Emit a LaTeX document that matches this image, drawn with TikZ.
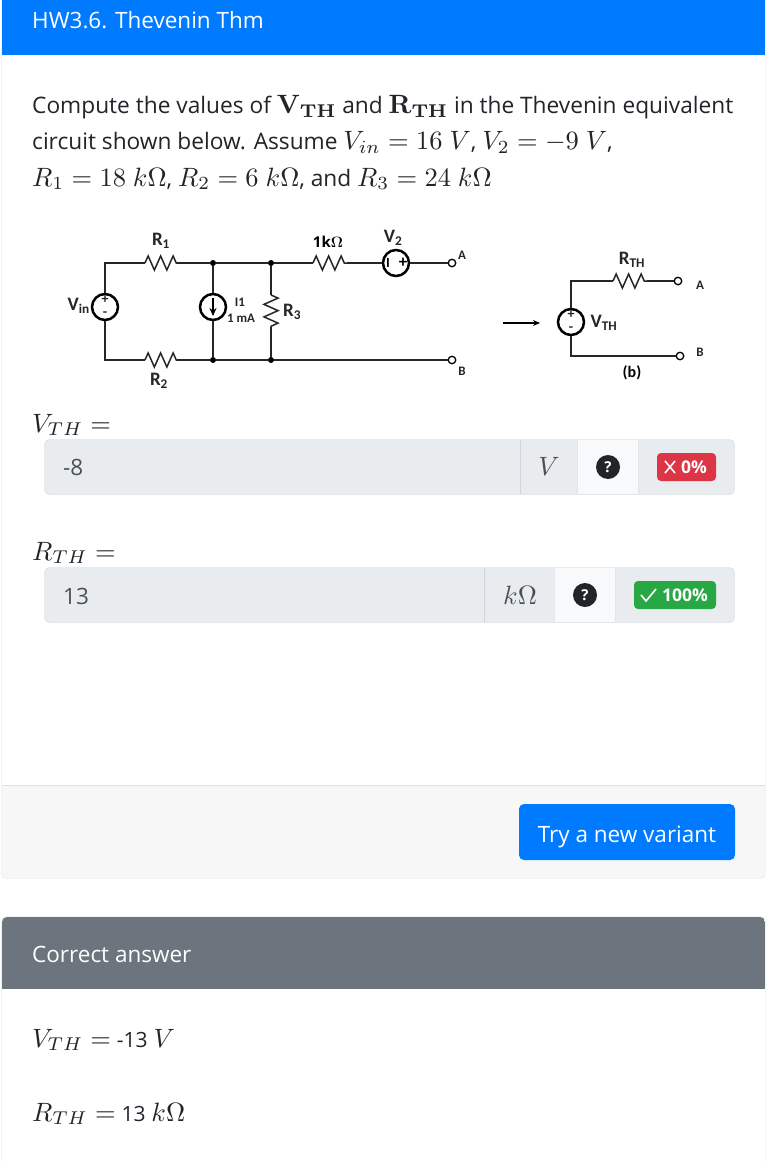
\documentclass[tikz,border=0pt]{standalone}
\usepackage{fix-cm}
\usepackage{graphicx}
\usepackage[no-math]{fontspec}
\setmainfont{Open Sans}
\newfontfamily\labelfont{Carlito}
\usetikzlibrary{decorations.pathmorphing, arrows.meta}
\definecolor{cardblue}{HTML}{007BFF}
\definecolor{cardgray}{HTML}{6C757D}
\definecolor{cardline}{HTML}{DFDFDF}
\definecolor{footgray}{HTML}{F7F7F7}
\definecolor{groupgray}{HTML}{E9ECEF}
\definecolor{groupline}{HTML}{CED4DA}
\definecolor{helpgray}{HTML}{F8F9FA}
\definecolor{inktext}{HTML}{212529}
\definecolor{fieldtext}{HTML}{495057}
\definecolor{badred}{HTML}{DC3545}
\definecolor{goodgreen}{HTML}{28A745}
\newcommand{\txtsize}{\fontsize{22.5}{27}\selectfont}
\newcommand{\mth}[1]{\scalebox{2.65}{\normalsize$#1$}}
\tikzset{
  every node/.style={inner sep=0pt},
  txt/.style={anchor=base west, text=inktext, font=\txtsize},
  qtxt/.style={anchor=base west, text=inktext, font=\fontsize{22.7}{27}\selectfont},
  field/.style={anchor=base west, text=fieldtext, font=\txtsize},
  unit/.style={anchor=base, text=fieldtext, font=\txtsize},
  wire/.style={line width=1.5pt, black!85},
  res/.style={wire, decorate, decoration={zigzag, segment length=12.5pt, amplitude=7pt}},
  source/.style={circle, draw, line width=2.5pt, black, fill=white, minimum size=26pt},
  terminal/.style={circle, draw, line width=1.3pt, black, fill=white, minimum size=7.5pt},
  joint/.style={circle, fill=black, minimum size=6pt},
  lab/.style={font=\labelfont\bfseries\fontsize{19}{20}\selectfont, text=black!85},
  pol/.style={font=\labelfont\bfseries\fontsize{14}{14}\selectfont, text=black!85},
  smalllab/.style={font=\labelfont\bfseries\fontsize{13}{14}\selectfont, text=black!85},
  badge/.style={rounded corners=4pt, text=white},
  helpdot/.style={circle, fill=inktext, minimum size=24pt, text=white, font=\bfseries\fontsize{15}{15}\selectfont}
}
\begin{document}
\begin{tikzpicture}[x=1pt, y=-1pt]
    \useasboundingbox (0,0) rectangle (774,1161);
    \fill[white] (0,0) rectangle (774,1161);

    % Top card
    \draw[cardline, fill=white, rounded corners=5pt] (1.5,-10) rectangle (765.5,878.5);
    \fill[cardblue] (2,0) rectangle (765,55.5);
    \begin{scope}
        \clip[rounded corners=5pt] (2,-10) rectangle (765,878);
        \fill[footgray] (2,785) rectangle (765,878);
    \end{scope}
    \draw[cardline] (2,785.5) -- (765,785.5);
    \node[txt, text=white] (title) at (32,29) {HW3.6. Thevenin Thm};

    % Question
    \node[qtxt] (line1) at (32,114) {Compute the values of \mth{\mathbf{V_{TH}}} and \mth{\mathbf{R_{TH}}} in the Thevenin equivalent};
    \node[qtxt] (line2) at (32,150) {circuit shown below. Assume \mth{V_{in}=16\ V}, \mth{V_2=-9\ V},};
    \node[qtxt] (line3) at (32,186) {\mth{R_1=18\ k\Omega}, \mth{R_2=6\ k\Omega}, and \mth{R_3=24\ k\Omega}};

    % Circuit (a)
    \coordinate (tl) at (105,263);
    \coordinate (bl) at (105,360);
    \coordinate (r1a) at (145,263);
    \coordinate (r1b) at (177,263);
    \coordinate (r2a) at (145,360);
    \coordinate (r2b) at (177,360);
    \coordinate (r3a) at (271,295);
    \coordinate (r3b) at (271,327);
    \coordinate (r4a) at (313,263);
    \coordinate (r4b) at (347,263);
    \node[source] (vin) at (105,307) {};
    \node[source] (i1) at (213,307) {};
    \node[source] (v2) at (396,263) {};
    \node[joint] (j1) at (213,263) {};
    \node[joint] (j2) at (271,263) {};
    \node[joint] (j3) at (213,360) {};
    \node[joint] (j4) at (271,360) {};
    \node[terminal] (ta) at (452,263) {};
    \node[terminal] (tb) at (452,360) {};

    \draw[wire] (vin) -- (tl) -- (r1a);
    \draw[res] (r1a) -- (r1b);
    \draw[wire] (r1b) -- (j1) -- (j2) -- (r4a);
    \draw[res] (r4a) -- (r4b);
    \draw[wire] (r4b) -- (v2);
    \draw[wire] (v2) -- (ta);
    \draw[wire] (vin) -- (bl) -- (r2a);
    \draw[res] (r2a) -- (r2b);
    \draw[wire] (r2b) -- (j3) -- (j4) -- (tb);
    \draw[wire] (j1) -- (i1);
    \draw[wire] (i1) -- (j3);
    \draw[wire] (j2) -- (r3a);
    \draw[res] (r3a) -- (r3b);
    \draw[wire] (r3b) -- (j4);
    \draw[-{Stealth[length=8pt,width=7pt]}, line width=1.6pt] (213,298) -- (213,316);

    % Labels (a)
    \node[pol] (vinp) at (105,300) {+};
    \node[pol] (vinm) at (105,314) {-};
    \node[lab, anchor=east] (vinlab) at (90,306) {V\textsubscript{in}};
    \node[lab] (r1lab) at (161,241) {R\textsubscript{1}};
    \node[lab] (r2lab) at (159,381) {R\textsubscript{2}};
    \node[lab, anchor=west] (r3lab) at (283,312) {R\textsubscript{3}};
    \node[font=\bfseries\fontsize{15}{17}\selectfont\rmfamily] (r4lab) at (328,242) {1k$\mathbf{\Omega}$};
    \node[lab] (v2lab) at (393,238) {V\textsubscript{2}};
    \node[smalllab] (i1lab) at (240,302) {I1};
    \node[smalllab] (i1val) at (241,318) {1 mA};
    \node[font=\labelfont\bfseries\fontsize{14}{14}\selectfont] (v2m) at (388,263) {I};
    \node[font=\labelfont\bfseries\fontsize{17}{17}\selectfont] (v2p) at (403,263) {+};
    \node[smalllab] (alab) at (462,255) {A};
    \node[smalllab] (blab) at (462,371) {B};

    % Circuit (b)
    \coordinate (tl2) at (571,281);
    \coordinate (bl2) at (571,356);
    \coordinate (r5a) at (613,281);
    \coordinate (r5b) at (647,281);
    \coordinate (arrowa) at (503,323);
    \coordinate (arrowb) at (540,323);
    \node[source] (vth) at (571,322) {};
    \node[terminal] (ta2) at (678,281) {};
    \node[terminal] (tb2) at (680,356) {};
    \draw[wire] (vth) -- (tl2) -- (r5a);
    \draw[res] (r5a) -- (r5b);
    \draw[wire] (r5b) -- (ta2);
    \draw[wire] (vth) -- (bl2) -- (tb2);
    \draw[-{Stealth[length=7pt,width=6pt]}, line width=1.3pt] (arrowa) -- (arrowb);
    \node[pol] (vthp) at (571,315) {+};
    \node[pol] (vthm) at (571,329) {-};
    \node[lab] (rthlab) at (632,260) {R\textsubscript{TH}};
    \node[lab] (vthlab) at (604,323) {V\textsubscript{TH}};
    \node[smalllab] (alab2) at (700,285) {A};
    \node[smalllab] (blab2) at (700,352) {B};
    \node[font=\labelfont\bfseries\fontsize{16}{16}\selectfont] (blabel) at (632,373) {(b)};

    % First answer
    \node[txt] (vthq) at (32,432) {\mth{V_{TH}=}};
    \draw[groupline, fill=groupgray, rounded corners=5pt] (44.5,439.5) rectangle (734.5,494.5);
    \fill[helpgray] (578,440) rectangle (638,494);
    \draw[groupline] (520.5,440) -- (520.5,494);
    \draw[groupline!60] (577.5,440) -- (577.5,494);
    \draw[groupline!60] (638.5,440) -- (638.5,494);
    \node[field] (val1) at (63,475) {-8};
    \node[unit] (unit1) at (549,475) {\mth{V}};
    \node[helpdot] (help1) at (608,467) {?};
    \fill[badred, badge] (657,453) rectangle (716,481);
    \draw[white, line width=1.6pt] (665,461) -- (675,473) (675,461) -- (665,473);
    \node[text=white, anchor=west, font=\bfseries\fontsize{17.5}{18}\selectfont] (badge1) at (681,467) {0\%};

    % Second answer
    \node[txt] (rthq) at (32,560) {\mth{R_{TH}=}};
    \draw[groupline, fill=groupgray, rounded corners=5pt] (44.5,567.5) rectangle (734.5,622.5);
    \fill[helpgray] (555,568) rectangle (615,622);
    \draw[groupline] (484.5,568) -- (484.5,622);
    \draw[groupline!60] (554.5,568) -- (554.5,622);
    \draw[groupline!60] (615.5,568) -- (615.5,622);
    \node[field] (val2) at (63,604) {13};
    \node[unit] (unit2) at (520,604) {\mth{k\Omega}};
    \node[helpdot] (help2) at (585,595) {?};
    \fill[goodgreen, badge] (634,581) rectangle (716,609);
    \draw[white, line width=1.6pt] (641,595) -- (646,601) -- (656,589);
    \node[text=white, anchor=west, font=\bfseries\fontsize{17.5}{18}\selectfont] (badge2) at (662,595) {100\%};

    % Button
    \fill[cardblue, rounded corners=5pt] (519,804) rectangle (735,860);
    \node[txt, text=white, anchor=base] (newbtn) at (627,842) {Try a new variant};

    % Correct answer card
    \draw[cardline, fill=white, rounded corners=5pt] (1.5,916.5) rectangle (765.5,1175);
    \begin{scope}
        \clip[rounded corners=5pt] (2,917) rectangle (765,1175);
        \fill[cardgray] (2,917) rectangle (765,989);
    \end{scope}
    \node[txt, text=white] (corr) at (32,962) {Correct answer};
    \node[txt] (vthans) at (32,1047) {\mth{V_{TH}=} {\fontsize{21}{25}\selectfont -13} \mth{V}};
    \node[txt] (rthans) at (32,1121) {\mth{R_{TH}=} {\fontsize{21}{25}\selectfont 13} \mth{k\Omega}};
\end{tikzpicture}
\end{document}
